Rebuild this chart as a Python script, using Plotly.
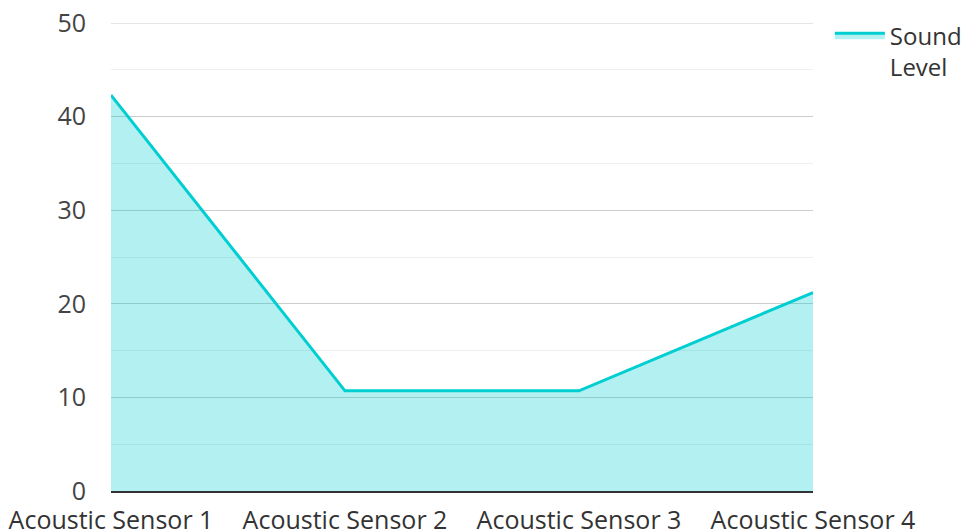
import plotly.graph_objects as go

categories = ["Acoustic Sensor 1", "Acoustic Sensor 2", "Acoustic Sensor 3", "Acoustic Sensor 4"]
sound_level = [42.3, 10.7, 10.7, 21.2]
series_name = "Sound<br>Level"
y_max = 50

# page body adds an 8px offset; compensate in the margins
OFF = 8

fig = go.Figure()
fig.add_trace(go.Scatter(
    x=categories, y=sound_level, name=series_name, mode="lines",
    line=dict(color="#00CED1", width=3),
    fill="tozeroy", fillcolor="rgba(0,206,209,0.3)",
))

fig.add_shape(type="line", xref="paper", x0=0, x1=1, yref="y", y0=y_max, y1=y_max,
              line=dict(color="#cccccc", width=1), layer="below")

fig.update_layout(
    width=973, height=532,
    margin=dict(l=111 - OFF, r=160 + OFF, t=23 - OFF, b=41 + OFF, autoexpand=False),
    paper_bgcolor="white", plot_bgcolor="white",
    font=dict(family="Open Sans", size=25, color="#444"),
    showlegend=True,
    legend=dict(x=1.024, y=1.021, xanchor="left", yanchor="top", valign="top",
                itemwidth=50, font=dict(size=24, color="#333"), tracegroupgap=0),
    xaxis=dict(type="category", range=[0, 3], showgrid=False, automargin=False,
               showline=True, linecolor="#333", linewidth=2, ticklabelstandoff=6,
               ticklabeloverflow="allow",
               ticks="", tickfont=dict(size=25, color="#333")),
    yaxis=dict(range=[0, y_max], dtick=10, showgrid=True, gridcolor="#cccccc", gridwidth=1,
               zeroline=False, showline=False, ticks="", ticklabelstandoff=24, automargin=False,
               ticklabeloverflow="allow",
               tickfont=dict(size=25, color="#444"),
               minor=dict(dtick=5, showgrid=True, gridcolor="#eeeeee", gridwidth=1)),
)

fig.write_html("out.html")
